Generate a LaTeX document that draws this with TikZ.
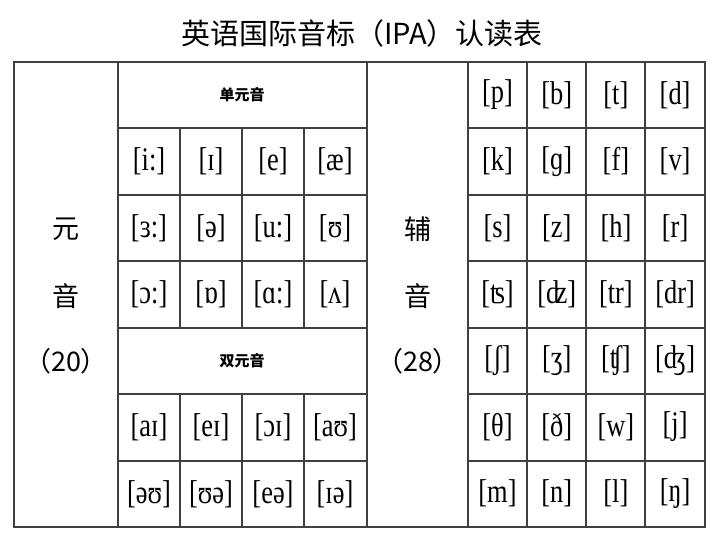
\documentclass[tikz,border=0pt]{standalone}
\usepackage{fontspec}
\setmainfont{Liberation Serif}
\newfontfamily\cjk{Noto Sans CJK SC}
\begin{document}
\begin{tikzpicture}[x=1pt,y=-1pt,
  ipa/.style={font=\fontsize{33}{33}\selectfont, inner sep=0pt, xscale=0.8},
  hanzi/.style={font=\cjk\fontsize{27}{30}\selectfont, inner sep=0pt},
  subhead/.style={font=\cjk\bfseries\fontsize{15}{15}\selectfont},
  grid/.style={draw=black!75, line width=1.2pt}]
\useasboundingbox (0,0) rectangle (720,540);

% Title
\node[font=\cjk\fontsize{29}{29}\selectfont] (title) at (362,33) {英语国际音标（IPA）认读表};

% Frame and grid lines
\draw[grid] (14,62) rectangle (705,527);
\foreach \x in {118,367,468} \draw[grid] (\x,62) -- (\x,527);
\foreach \x in {180,242,304} {
  \draw[grid] (\x,128) -- (\x,328);
  \draw[grid] (\x,394) -- (\x,527);
}
\foreach \x in {527,586,645} \draw[grid] (\x,62) -- (\x,527);
\foreach \y in {128,195,261,328,394,461} {
  \draw[grid] (118,\y) -- (367,\y);
  \draw[grid] (468,\y) -- (705,\y);
}

% Left and middle labels
\node[hanzi] (yuan) at (66,229) {元};
\node[hanzi] (yin1) at (66,296) {音};
\node[hanzi] (n20) at (66,361) {（20）};
\node[hanzi] (fu) at (418,229) {辅};
\node[hanzi] (yin2) at (418,296) {音};
\node[hanzi] (n28) at (418,361) {（28）};
\node[subhead] (dan) at (242,95) {单元音};
\node[subhead] (shuang) at (242,361) {双元音};

% Vowels
\foreach \s [count=\i from 0] in {i:,ɪ,e,æ,ɜ:,ə,u:,ʊ,ɔ:,ɒ,ɑ:,ʌ} {
  \pgfmathsetmacro\cx{149+62*mod(\i,4)}
  \pgfmathsetmacro\cy{161.5+66.5*floor(\i/4)}
  \node[ipa] (v\i) at (\cx,\cy) {[\s]};
}
\foreach \s [count=\i from 0] in {aɪ,eɪ,ɔɪ,aʊ,əʊ,ʊə,eə,ɪə} {
  \pgfmathsetmacro\cx{149+62*mod(\i,4)}
  \pgfmathsetmacro\cy{427.5+66.5*floor(\i/4)}
  \node[ipa] (d\i) at (\cx,\cy) {[\s]};
}

% Consonants
\foreach \s [count=\i from 0] in {p,b,t,d,k,ɡ,f,v,s,z,h,r,ʦ,ʣ,tr,dr,ʃ,ʒ,ʧ,ʤ,θ,ð,w,j,m,n,l,ŋ} {
  \pgfmathsetmacro\cx{497.5+59.2*mod(\i,4)}
  \pgfmathsetmacro\cy{95+66.4*floor(\i/4)}
  \node[ipa] (c\i) at (\cx,\cy) {[\s]};
}
\end{tikzpicture}
\end{document}
